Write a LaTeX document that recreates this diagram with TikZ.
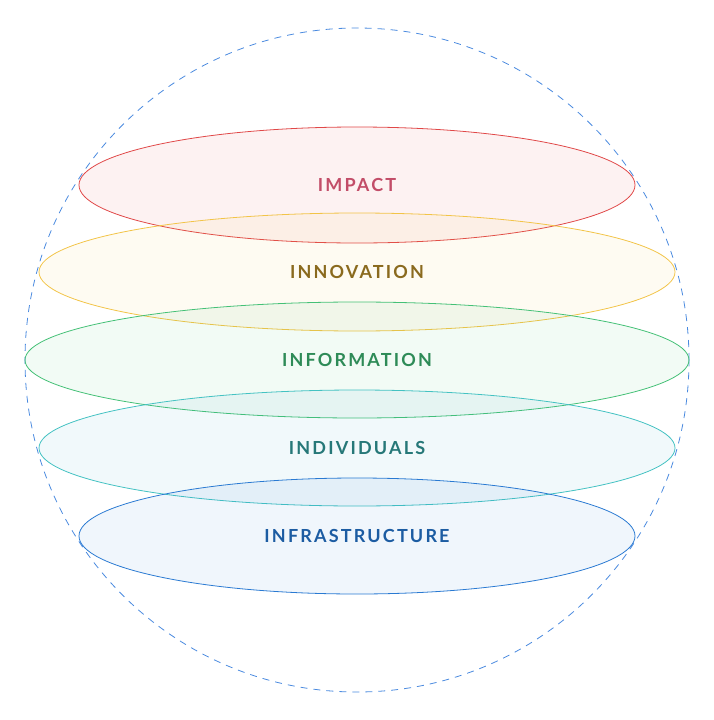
\documentclass[tikz,border=0pt]{standalone}
\usepackage{fontspec}
\setmainfont{Lato}
\newfontfamily\labelfont[LetterSpace=12]{Lato Bold}
\usetikzlibrary{positioning, shapes.geometric}

\definecolor{globeblue}{HTML}{4A8ADF}
\definecolor{impactline}{HTML}{E04848}
\definecolor{impacttext}{HTML}{C24D68}
\definecolor{innovline}{HTML}{F2C448}
\definecolor{innovtext}{HTML}{8A6A1E}
\definecolor{infoline}{HTML}{44C076}
\definecolor{infotext}{HTML}{2E8B57}
\definecolor{indivline}{HTML}{44C2C2}
\definecolor{indivtext}{HTML}{267878}
\definecolor{infraline}{HTML}{2A7AD2}
\definecolor{infratext}{HTML}{1C5CA2}

\begin{document}
\begin{tikzpicture}[
        x=1pt, y=-1pt,
        globe/.style={circle, draw=globeblue, dash pattern=on 7pt off 6pt, line width=0.8pt, minimum size=664pt, inner sep=0pt},
        layer/.style={ellipse, inner sep=0pt, line width=0.8pt, fill opacity=0.07, text opacity=1, font=\labelfont\fontsize{18}{21}\selectfont},
        impact/.style={layer, draw=impactline, fill=impactline, text=impacttext, minimum width=556pt, minimum height=116pt},
        innov/.style={layer, draw=innovline, fill=innovline, text=innovtext, minimum width=636pt, minimum height=118pt},
        info/.style={layer, draw=infoline, fill=infoline, text=infotext, minimum width=664pt, minimum height=116pt},
        indiv/.style={layer, draw=indivline, fill=indivline!60!infraline, text=indivtext, minimum width=636pt, minimum height=116pt},
        infra/.style={layer, draw=infraline, fill=infraline, text=infratext, minimum width=556pt, minimum height=116pt}
    ]
    \useasboundingbox (0,0) rectangle (714,720);

    % Outer globe
    \node[globe] (globe) at (357, 360) {};

    % Layers, top to bottom
    \node[impact] (impact) at (357, 185) {IMPACT};
    \node[innov] (innovation) at (357, 272) {INNOVATION};
    \node[info] (information) at (357, 360) {INFORMATION};
    \node[indiv] (individuals) at (357, 448) {INDIVIDUALS};
    \node[infra] (infrastructure) at (357, 536) {INFRASTRUCTURE};

\end{tikzpicture}
\end{document}
